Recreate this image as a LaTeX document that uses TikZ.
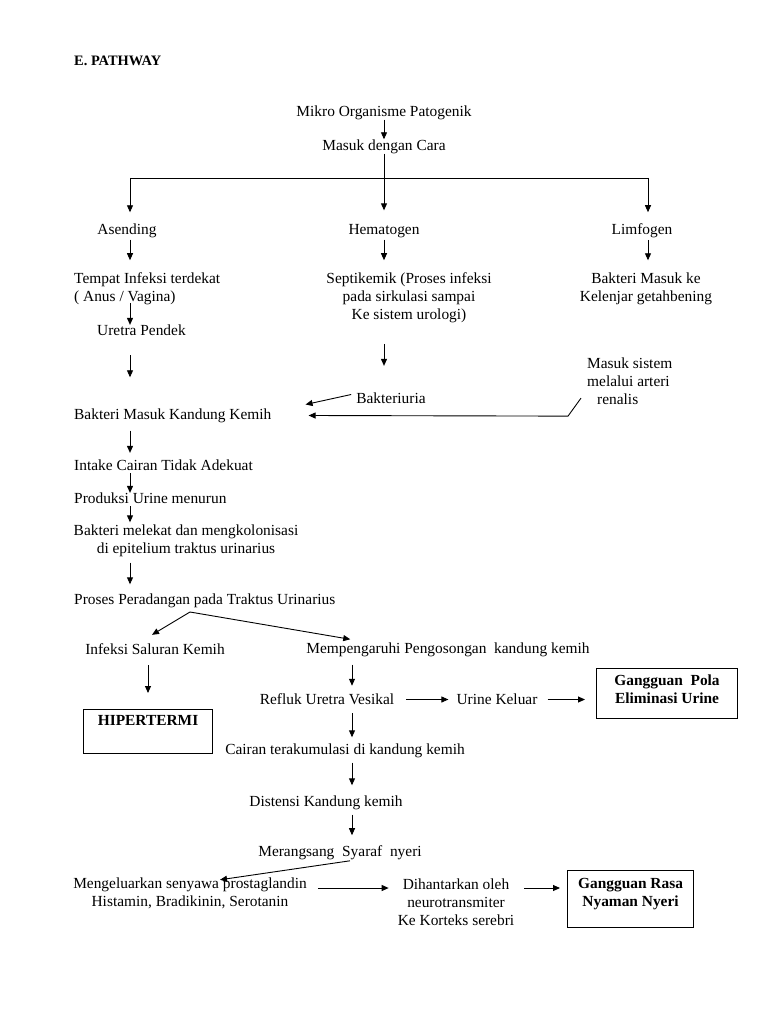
\documentclass[tikz,border=0pt]{standalone}
\usepackage{fontspec}
\setmainfont{Liberation Serif}
\usetikzlibrary{arrows.meta,calc}
\begin{document}
\begin{tikzpicture}[x=1pt,y=-1pt,
  txt/.style={inner sep=0pt, yshift=-2.5pt, font=\fontsize{15.4}{18}\selectfont},
  ml/.style={txt, align=center},
  bx/.style={draw, line width=1.1pt, inner sep=0pt, align=center, font=\fontsize{15.4}{18}\selectfont\bfseries},
  arr/.style={-{Triangle[length=7pt,width=6pt]}, line width=0.9pt},
  ln/.style={line width=0.9pt}]
\fill[white] (0,0) rectangle (768,1024);
\useasboundingbox (0,0) rectangle (768,1024);

% columns
\coordinate (cL) at (130,0);
\coordinate (cH) at (384,0);
\coordinate (cM) at (352,0);
\coordinate (cI) at (148,0);
\coordinate (jL) at (130,178);
\coordinate (jR) at (648,178);
\coordinate (fork) at (190,612);
\coordinate (rowy) at (0,888);

% title
\node[inner sep=0pt, anchor=west, yshift=-1pt, font=\fontsize{14.4}{17}\selectfont\bfseries] (title) at (74,60) {E. PATHWAY};

% nodes
\node[txt] (mikro) at (384,110) {Mikro Organisme Patogenik};
\node[txt] (masuk) at (384,144) {Masuk dengan Cara};
\node[txt] (asending) at (127,228) {Asending};
\node[txt, text height=10.6pt] (hemato) at (384,228) {Hematogen};
\node[txt] (limfo) at (642,228) {Limfogen};
\node[txt, align=left, anchor=west] (tempat) at (74,286) {Tempat Infeksi terdekat\\( Anus / Vagina)};
\node[txt, anchor=west] (uretra) at (97,328) {Uretra Pendek};
\node[ml] (septi) at (409,295) {Septikemik (Proses infeksi\\pada sirkulasi sampai\\Ke sistem urologi)};
\node[txt] (bakteriuria) at (391,396) {Bakteriuria};
\node[ml] (bmk) at (646,286) {Bakteri Masuk ke\\Kelenjar getahbening};
\node[txt, align=left, anchor=west] (msys) at (587,379) {Masuk sistem\\melalui arteri\\\hspace*{10pt}renalis};
\node[txt, anchor=west] (bkk) at (74,413) {Bakteri Masuk Kandung Kemih};
\node[txt, anchor=west] (intake) at (74,463) {Intake Cairan Tidak Adekuat};
\node[txt, anchor=west] (produksi) at (74,496) {Produksi Urine menurun};
\node[ml] (melekat) at (186,538) {Bakteri melekat dan mengkolonisasi\\di epitelium traktus urinarius};
\node[txt, anchor=west] (proses) at (74,598) {Proses Peradangan pada Traktus Urinarius};
\node[txt] (isk) at (155,647) {Infeksi Saluran Kemih};
\node[txt] (mempeng) at (448,647) {Mempengaruhi Pengosongan\ \ kandung kemih};
\node[bx, minimum width=129pt, minimum height=44pt, anchor=north west, text depth=22pt] (hiper) at (83,709) {HIPERTERMI};
\node[txt] (refluk) at (327,697) {Refluk Uretra Vesikal};
\node[txt] (urine) at (497,697) {Urine Keluar};
\node[bx, minimum width=141pt, minimum height=50pt, anchor=north west] (gpola) at (596,668) {Gangguan\ \ Pola\\Eliminasi Urine\\[-10pt]\mbox{}};
\node[txt] (cairan) at (345,748) {Cairan terakumulasi di kandung kemih};
\node[txt] (distensi) at (326,800) {Distensi Kandung kemih};
\node[txt] (merang) at (340,850) {Merangsang\ \ Syaraf\ \ nyeri};
\node[ml] (mengel) at (190,891) {Mengeluarkan senyawa prostaglandin\\Histamin, Bradikinin, Serotanin};
\node[ml] (dihant) at (456,900) {Dihantarkan oleh\\neurotransmiter\\Ke Korteks serebri};
\node[bx, minimum width=126pt, minimum height=57pt, anchor=north west] (grasa) at (567,870) {Gangguan Rasa\\Nyaman Nyeri\\[-5pt]\mbox{}};

% connectors
\draw[arr] (mikro) -- (masuk);
\draw[arr, shorten >=13pt] (masuk) -- (hemato);
\draw[ln] (jL) -- (jR);
\draw[arr, shorten >=11pt] (jL) -- (jL |- asending.north);
\draw[arr, shorten >=11pt] (jR) -- (jR |- limfo.north);
\draw[arr, shorten <=2pt, shorten >=12pt] (asending.south -| cL) -- (tempat.north -| cL);
\draw[arr, shorten <=2pt, shorten >=12pt] (hemato.south) -- (hemato.south |- septi.north);
\draw[arr, shorten <=2pt, shorten >=12pt] (limfo.south -| jR) -- (bmk.north -| jR);
\draw[arr, shorten <=-2pt] (tempat.south -| cL) -- (uretra.north -| cL);
\draw[arr, shorten <=19pt, shorten >=31pt] (uretra.south -| cL) -- (bkk.north -| cL);
\draw[arr, shorten <=21pt, shorten >=27pt] (septi.south -| cH) -- (bakteriuria.north -| cH);
\draw[arr] ($(bakteriuria.west)+(-5,-4)$) -- ($(bkk.east)+(34,-11)$);
\draw[arr] ($(msys.south west)+(-6,-7)$) -- ++(-13,18) -- ($(bkk.east)+(37,0)$);
\draw[arr, shorten <=8pt, shorten >=7pt] (bkk.south -| cL) -- (intake.north -| cL);
\draw[arr, shorten <=2pt] (intake.south -| cL) -- (produksi.north -| cL);
\draw[arr, shorten <=2pt, shorten >=2pt] (produksi.south -| cL) -- (melekat.north -| cL);
\draw[arr, shorten <=6pt, shorten >=9pt] (melekat.south -| cL) -- (proses.north -| cL);
\draw[arr] (fork) -- ($(isk.north)+(-3,-9)$);
\draw[arr] (fork) -- ($(mempeng.north west)+(44,-3)$);
\draw[arr, shorten <=10pt, shorten >=16pt] (isk.south -| cI) -- (hiper.north -| cI);
\draw[arr, shorten <=8pt, shorten >=8pt] (mempeng.south -| cM) -- (refluk.north -| cM);
\draw[arr, shorten <=12pt, shorten >=8pt] (refluk.east) -- (urine.west);
\draw[arr, shorten <=10pt, shorten >=11pt] (urine.east) -- (urine.east -| gpola.west);
\draw[arr, shorten <=8pt, shorten >=6pt] (refluk.south -| cM) -- (cairan.north -| cM);
\draw[arr, shorten <=5pt, shorten >=10pt] (cairan.south -| cM) -- (distensi.north -| cM);
\draw[arr, shorten <=5pt, shorten >=10pt] (distensi.south -| cM) -- (merang.north -| cM);
\draw[arr] ($(merang.south)+(10,1)$) -- ($(mengel.north)+(30,2)$);
\draw[arr, shorten <=11pt, shorten >=9pt] (mengel.east |- rowy) -- (dihant.west |- rowy);
\draw[arr, shorten <=10pt, shorten >=7pt] (dihant.east |- rowy) -- (grasa.west |- rowy);
\end{tikzpicture}
\end{document}
